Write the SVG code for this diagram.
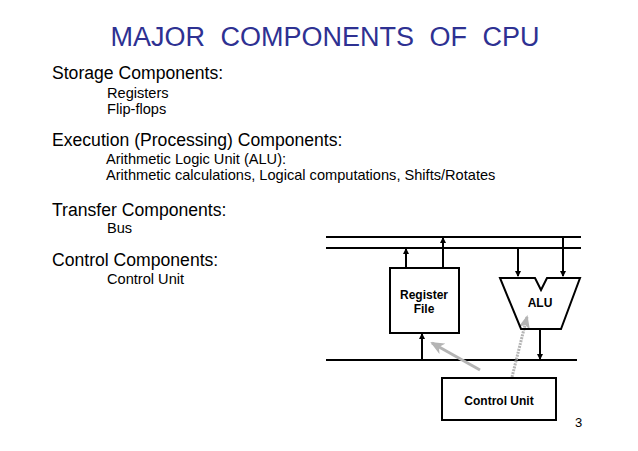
<svg xmlns="http://www.w3.org/2000/svg" width="638" height="451" viewBox="0 0 638 451">
<style>
.t{font-family:"Liberation Sans",Arial,sans-serif;fill:#000}
.h{font-size:17.6px}.s{font-size:14.6px}
.b{font-family:"Liberation Sans",Arial,sans-serif;font-weight:bold;font-size:12px;text-anchor:middle}
.l{stroke:#000;stroke-width:2;fill:none}
.g{stroke:#b4b4b4;stroke-width:3;fill:none}
</style>
<defs>
<marker id="a" markerWidth="6" markerHeight="6" refX="5" refY="3" orient="auto" markerUnits="userSpaceOnUse"><path d="M0,0L6,3L0,6z" fill="#000"/></marker>
<marker id="ga" markerWidth="14" markerHeight="12" refX="12" refY="6" orient="auto" markerUnits="userSpaceOnUse"><path d="M0,0L14,6L0,12L4,6z" fill="#b4b4b4"/></marker>
</defs>
<text x="325" y="46" text-anchor="middle" style="font-family:'Liberation Sans',Arial,sans-serif;font-size:27px;word-spacing:8px;fill:#2e3192">MAJOR COMPONENTS OF CPU</text>
<text class="t h" x="52" y="79">Storage Components:</text>
<text class="t s" x="107" y="98">Registers</text>
<text class="t s" x="107" y="114">Flip-flops</text>
<text class="t h" x="52" y="146">Execution (Processing) Components:</text>
<text class="t s" x="106" y="164">Arithmetic Logic Unit (ALU):</text>
<text class="t s" x="106" y="180">Arithmetic calculations, Logical computations, Shifts/Rotates</text>
<text class="t h" x="52" y="216">Transfer Components:</text>
<text class="t s" x="107" y="233">Bus</text>
<text class="t h" x="52" y="266">Control Components:</text>
<text class="t s" x="107" y="284">Control Unit</text>
<g id="connectors">
<line class="l" x1="326" y1="237" x2="581" y2="237"/>
<line class="l" x1="326" y1="248" x2="581" y2="248"/>
<line class="l" x1="326" y1="360" x2="577" y2="360"/>
<line class="l" x1="406" y1="268" x2="406" y2="249" marker-end="url(#a)"/>
<line class="l" x1="443" y1="268" x2="443" y2="238" marker-end="url(#a)"/>
<line class="l" x1="518" y1="249" x2="518" y2="276" marker-end="url(#a)"/>
<line class="l" x1="563" y1="238" x2="563" y2="276" marker-end="url(#a)"/>
<line class="l" x1="540" y1="329" x2="540" y2="359" marker-end="url(#a)"/>
<line class="l" x1="422" y1="359" x2="422" y2="334" marker-end="url(#a)"/>
<line class="g" x1="480" y1="370" x2="432" y2="343" marker-end="url(#ga)"/>
<line class="g" x1="512" y1="377" x2="527" y2="317" stroke-dasharray="2 1" marker-end="url(#ga)"/>
</g>
<g id="regfile"><rect class="l" x="390" y="268" width="69" height="65" fill="#fff"/>
<text class="b" x="424" y="299">Register</text><text class="b" x="424" y="313">File</text></g>
<g id="alu"><path class="l" d="M500,278L535,278L541,290L547,278L580,278L561,329L521,329Z"/>
<text class="b" x="540" y="307">ALU</text></g>
<g id="cu"><rect class="l" x="442" y="378" width="114" height="42"/>
<text class="b" x="499" y="405">Control Unit</text></g>
<text class="t" x="575" y="427" style="font-size:13px">3</text>
</svg>
